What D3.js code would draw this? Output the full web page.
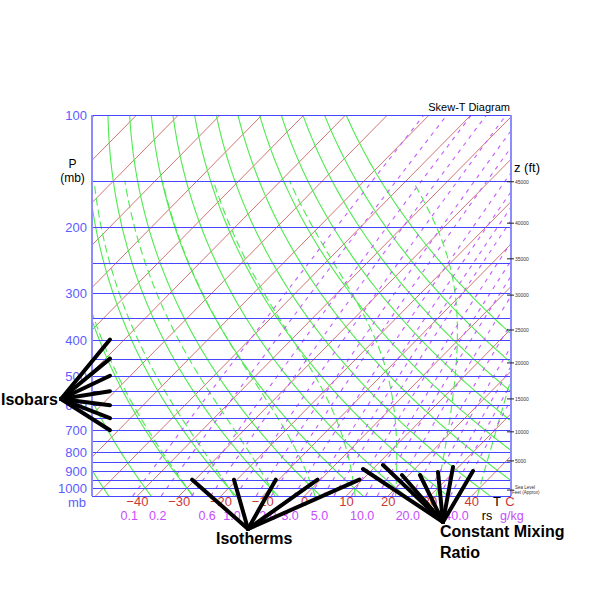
<!DOCTYPE html>
<html><head><meta charset="utf-8">
<script src="https://cdn.jsdelivr.net/npm/d3@7"></script>
<style>body{margin:0;background:#fff}svg{display:block}</style>
</head><body>
<svg id="c" width="600" height="600"></svg>
<script>
// ---------- data ----------
const isobars = [100,150,200,250,300,350,400,450,500,550,600,650,700,750,800,850,900,950,1000,1050];
const pressureLabels = [100,200,300,400,500,600,700,800,900,1000];
const isotherms = [-140,-130,-120,-110,-100,-90,-80,-70,-60,-50,-40,-30,-20,-10,0,10,20,30,40,50];
const tempLabels = [-40,-30,-20,-10,0,10,20,30,40];
const dryAdiabats = [-50,-40,-30,-20,-10,0,10,20,30,40,50,60,70,80,90,100];   // theta, deg C
const moistAdiabats = [-30,-20,-10,0,10,20,30,40];                            // theta-w, deg C
const mixingRatios = [0.1,0.2,0.4,0.6,1,1.5,2,3,4,5,6,8,10,12,15,20,25,30,35,40]; // g/kg
const mixingLabels = [0.1,0.2,0.6,1,2,3,5,10,20,40];
const heightFt = ["45000","40000","35000","30000","25000","20000","15000","10000","5000"];
const heightP  = [151,195,243,304,377,462,577,707,846];
const seaLevelP = 1013;
const isobarCallouts = [400,450,500,550,600,650,700];
const isothermCallouts = [-30,-20,-10,0,10];
const mixingCallouts = [[363,469],[383,465],[402,475],[420,475],[438,472],[453,467],[473,471]];

// ---------- geometry ----------
const svg = d3.select("#c");
const L = 92, R = 511, TOP = 115, BOT = 495.9;
const P_TOP = 100, P_BOT = 1050;
const y = d3.scaleLog().domain([P_TOP, P_BOT]).range([TOP, BOT]);
const xT = d3.scaleLinear().domain([-50, 50]).range([304.6 - 209, 304.6 + 209]);
const SKEW = 0.9856;
const X = (t, p) => xT(t) + SKEW * (y(P_BOT) - y(p));
const FONT = "'Liberation Sans', Arial, Helvetica, sans-serif";

// thermodynamics
const Rd = 287.04, cp = 1005.7, Lv = 2.501e6, EPS = 0.622;
const es = tc => 6.112 * Math.exp(17.67 * tc / (tc + 243.5));
const tdFromW = (p, w) => { const e = w * p / (622 + w); const a = Math.log(e / 6.112); return 243.5 * a / (17.67 - a); };
function dTdp(T, p) {
  const e = es(T - 273.15), rs = EPS * e / (p - e);
  return (Rd * T + Lv * rs) / (p * (cp + Lv * Lv * rs * EPS / (Rd * T * T)));
}
function moistCurve(thw, pEnd) {
  const stepInt = (p0, p1, dp) => {
    let T = thw + 273.15, p = p0; const out = [[thw, p0]];
    while ((dp < 0 && p > p1) || (dp > 0 && p < p1)) {
      const h = dp;
      const k1 = dTdp(T, p), k2 = dTdp(T + h * k1 / 2, p + h / 2), k3 = dTdp(T + h * k2 / 2, p + h / 2), k4 = dTdp(T + h * k3, p + h);
      T += h * (k1 + 2 * k2 + 2 * k3 + k4) / 6; p += h;
      out.push([T - 273.15, p]);
    }
    return out;
  };
  const up = stepInt(1000, pEnd, -2);
  const down = stepInt(1000, P_BOT, 2);
  return down.reverse().concat(up.slice(1));
}
const pSamples = d3.range(P_BOT, P_TOP - 0.1, -5);

svg.append("defs").append("clipPath").attr("id", "plot")
  .append("rect").attr("x", L).attr("y", TOP).attr("width", R - L).attr("height", BOT - TOP);
const g = svg.append("g").attr("clip-path", "url(#plot)");
const line = d3.line().x(d => X(d[0], d[1])).y(d => y(d[1]));

// isotherms
g.append("g").selectAll("path").data(isotherms).join("path")
  .attr("d", t => line([[t, P_BOT], [t, P_TOP]]))
  .attr("fill", "none").attr("stroke", "#d07474").attr("stroke-width", 1);

// dry adiabats
g.append("g").selectAll("path").data(dryAdiabats).join("path")
  .attr("d", th => line(pSamples.map(p => [(th + 273.15) * Math.pow(p / 1000, 0.2857) - 273.15, p])))
  .attr("fill", "none").attr("stroke", "#4fea4f").attr("stroke-width", 1.1);

// moist adiabats
g.append("g").selectAll("path").data(moistAdiabats).join("path")
  .attr("d", th => line(moistCurve(th, 150)))
  .attr("fill", "none").attr("stroke", "#4fea4f").attr("stroke-width", 1.1).attr("stroke-dasharray", "8,4");

// mixing ratio lines
g.append("g").selectAll("path").data(mixingRatios).join("path")
  .attr("d", w => line(pSamples.map(p => [tdFromW(p, w), p])))
  .attr("fill", "none").attr("stroke", "#c45cff").attr("stroke-width", 1.1).attr("stroke-dasharray", "4,5");

// isobars
svg.append("g").attr("shape-rendering", "crispEdges").selectAll("line").data(isobars).join("line")
  .attr("x1", L).attr("x2", R).attr("y1", p => Math.round(y(p)) + 0.5).attr("y2", p => Math.round(y(p)) + 0.5)
  .attr("stroke", "#4646ff").attr("stroke-width", 1);

// frame sides
svg.append("g").attr("shape-rendering", "crispEdges").selectAll("line").data([L, R]).join("line")
  .attr("x1", d => d).attr("x2", d => d).attr("y1", TOP).attr("y2", BOT)
  .attr("stroke", "#8c8cff").attr("stroke-width", 2);

// pressure labels
svg.append("g").selectAll("text").data(pressureLabels).join("text")
  .attr("x", 87).attr("y", p => y(p) + 5).attr("text-anchor", "end")
  .attr("font-family", FONT).attr("font-size", 13).attr("fill", "#5c5cff").text(d => d);
svg.append("text").attr("x", 86).attr("y", 507).attr("text-anchor", "end")
  .attr("font-family", FONT).attr("font-size", 13).attr("fill", "#5c5cff").text("mb");
svg.append("text").attr("x", 72.5).attr("y", 167.5).attr("text-anchor", "middle")
  .attr("font-family", FONT).attr("font-size", 12).attr("fill", "#000").text("P");
svg.append("text").attr("x", 72.5).attr("y", 181.5).attr("text-anchor", "middle")
  .attr("font-family", FONT).attr("font-size", 12).attr("fill", "#000").text("(mb)");

// temperature labels
svg.append("g").selectAll("text").data(tempLabels).join("text")
  .attr("x", t => xT(t)).attr("y", 506).attr("text-anchor", "middle")
  .attr("font-family", FONT).attr("font-size", 13).attr("fill", "#cc3838")
  .text(t => t < 0 ? "\u2212" + Math.abs(t) : t);
svg.append("text").attr("x", 497).attr("y", 506).attr("text-anchor", "middle")
  .attr("font-family", FONT).attr("font-size", 13).attr("fill", "#000").text("T");
svg.append("text").attr("x", 510).attr("y", 506).attr("text-anchor", "middle")
  .attr("font-family", FONT).attr("font-size", 13).attr("fill", "#cc3838").text("C");

// mixing ratio labels
svg.append("g").selectAll("text").data(mixingLabels).join("text")
  .attr("x", w => X(tdFromW(P_BOT, w), P_BOT) - 3.5).attr("y", 519.5).attr("text-anchor", "middle")
  .attr("font-family", FONT).attr("font-size", 12.5).attr("fill", "#c84cff")
  .text(w => w.toFixed(1));
svg.append("text").attr("x", 487).attr("y", 519.5).attr("text-anchor", "middle")
  .attr("font-family", FONT).attr("font-size", 12.5).attr("fill", "#000").text("rs");
svg.append("text").attr("x", 500).attr("y", 519.5).attr("text-anchor", "start")
  .attr("font-family", FONT).attr("font-size", 12.5).attr("fill", "#c84cff").text("g/kg");

// height ticks
const hg = svg.append("g");
hg.selectAll("line").data(heightP.concat([seaLevelP])).join("line")
  .attr("x1", R - 4).attr("x2", R + 3).attr("y1", p => y(p)).attr("y2", p => y(p))
  .attr("stroke", "#222").attr("stroke-width", 1);
hg.selectAll("text").data(heightFt).join("text")
  .attr("x", R + 4).attr("y", (d, i) => y(heightP[i]) + 1.8)
  .attr("font-family", FONT).attr("font-size", 5).attr("fill", "#333").text(d => d);
svg.append("text").attr("x", R + 4).attr("y", y(seaLevelP) - 0.8).attr("font-family", FONT).attr("font-size", 4.5).attr("fill", "#333").text("Sea Level");
svg.append("text").attr("x", R + 1).attr("y", y(seaLevelP) + 3.8).attr("font-family", FONT).attr("font-size", 4.5).attr("fill", "#333").text("Feet (Approx)");
svg.append("text").attr("x", 514).attr("y", 172).attr("font-family", FONT).attr("font-size", 13).attr("fill", "#000").text("z (ft)");

// title
svg.append("text").attr("x", 510).attr("y", 111).attr("text-anchor", "end")
  .attr("font-family", FONT).attr("font-size", 11).attr("fill", "#000").text("Skew-T Diagram");

// callouts
const cg = svg.append("g").attr("stroke", "#000").attr("stroke-width", 4).attr("stroke-linecap", "round");
const isoV = [61, 399];
cg.selectAll("line.ib").data(isobarCallouts).join("line").attr("class", "ib")
  .attr("x1", isoV[0]).attr("y1", isoV[1]).attr("x2", 110).attr("y2", p => y(p));
const itV = [248, 529];
cg.selectAll("line.it").data(isothermCallouts).join("line").attr("class", "it")
  .attr("x1", itV[0]).attr("y1", itV[1]).attr("x2", t => X(t, 950) - 3).attr("y2", y(950));
const mrV = [443, 522];
cg.selectAll("line.mr").data(mixingCallouts).join("line").attr("class", "mr")
  .attr("x1", mrV[0]).attr("y1", mrV[1]).attr("x2", d => d[0]).attr("y2", d => d[1]);

const bold = (x, yy, t) => svg.append("text").attr("x", x).attr("y", yy)
  .attr("font-family", FONT).attr("font-size", 16).attr("font-weight", "bold").attr("fill", "#000").text(t);
bold(1, 405, "Isobars");
bold(216, 544, "Isotherms");
bold(440, 537, "Constant Mixing");
bold(440, 558, "Ratio");
</script>
</body></html>
